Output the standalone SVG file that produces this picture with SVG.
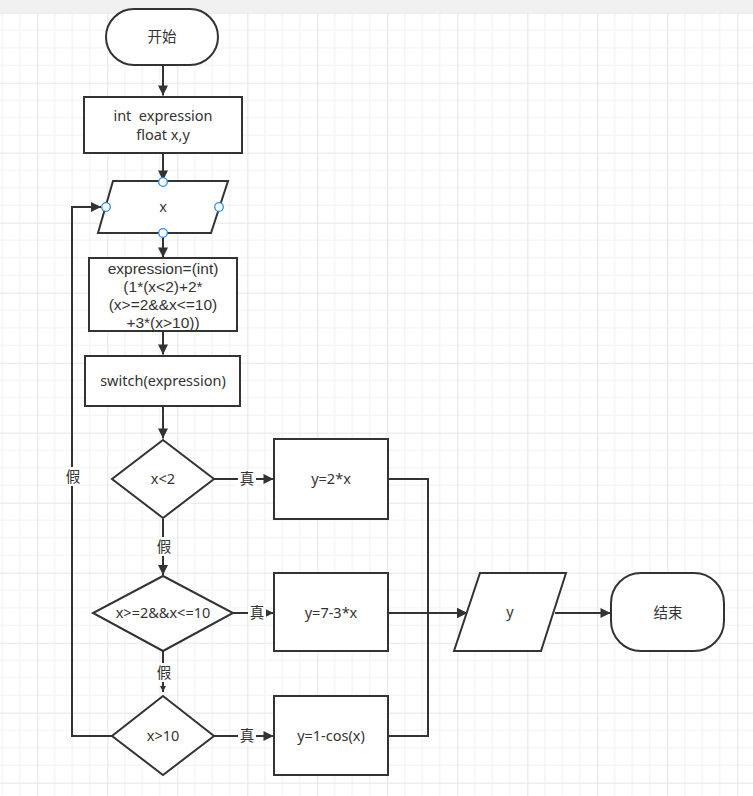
<svg xmlns="http://www.w3.org/2000/svg" width="753" height="796" viewBox="0 0 753 796">
<defs>
<pattern id="grid" x="-32.7" y="12.7" width="70" height="70" patternUnits="userSpaceOnUse">
<path d="M0,17.5H70M0,35H70M0,52.5H70M17.5,0V70M35,0V70M52.5,0V70" stroke="#f2f2f2" stroke-width="1.2" fill="none"/>
<path d="M0,0.5H70M0.5,0V70" stroke="#e6e6e6" stroke-width="1.2" fill="none"/>
</pattern>
<marker id="arr" viewBox="0 0 10 10" refX="10" refY="5" markerWidth="11" markerHeight="10" markerUnits="userSpaceOnUse" orient="auto">
<path d="M0,0L10,5L0,10z" fill="#333"/>
</marker>
<marker id="arrs" viewBox="0 0 10 10" refX="10" refY="5" markerWidth="7" markerHeight="6" markerUnits="userSpaceOnUse" orient="auto">
<path d="M0,0L10,5L0,10z" fill="#333"/>
</marker>
<style>
.s{fill:#fff;stroke:#333;stroke-width:2}
.t{font-family:"Noto Sans","Noto Sans CJK SC",sans-serif;font-size:14.5px;fill:#333;text-anchor:middle}
.e{font-family:"Liberation Sans","Noto Sans CJK SC",sans-serif;font-size:15.5px;fill:#333;text-anchor:middle}
.c{fill:none;stroke:#333;stroke-width:2}
.lb{fill:#fff}
.pt{fill:#fff;stroke:#2a8cf0;stroke-width:1.3}
</style>
</defs>
<rect x="0" y="0" width="753" height="796" fill="#fff"/>
<rect x="0" y="13" width="753" height="783" fill="url(#grid)"/>
<rect x="0" y="0" width="753" height="13" fill="#f0f0f0"/>

<g id="connectors">
<path class="c" d="M163,65V95.5" marker-end="url(#arr)"/>
<path class="c" d="M163,153V180.5" marker-end="url(#arr)"/>
<path class="c" d="M163,233V257.5" marker-end="url(#arr)"/>
<path class="c" d="M163,331V354.5" marker-end="url(#arr)"/>
<path class="c" d="M163,406V438.5" marker-end="url(#arr)"/>
<path class="c" d="M163,519V575" marker-end="url(#arr)"/>
<path class="c" d="M163,651V692" marker-end="url(#arrs)"/>
<path class="c" d="M112,736H72V207H101" marker-end="url(#arr)"/>
<path class="c" d="M214,479H273.5" marker-end="url(#arr)"/>
<path class="c" d="M233,613H273.5" marker-end="url(#arr)"/>
<path class="c" d="M214,736H273.5" marker-end="url(#arr)"/>
<path class="c" d="M388,479H428V613H467" marker-end="url(#arr)"/>
<path class="c" d="M388,613H467" marker-end="url(#arr)"/>
<path class="c" d="M388,736H428V613H467" marker-end="url(#arr)"/>
<path class="c" d="M555,613H610.5" marker-end="url(#arr)"/>
<rect class="lb" x="65" y="467" width="15" height="19"/>
<text class="t" x="73" y="481.5">假</text>
<rect class="lb" x="238" y="470" width="18" height="18"/>
<text class="t" x="247" y="484">真</text>
<rect class="lb" x="248" y="604" width="18" height="18"/>
<text class="t" x="257" y="618">真</text>
<rect class="lb" x="238" y="727" width="18" height="18"/>
<text class="t" x="247" y="741">真</text>
<rect class="lb" x="155" y="537" width="17" height="19"/>
<text class="t" x="164" y="551.5">假</text>
<rect class="lb" x="155" y="663" width="17" height="19"/>
<text class="t" x="164" y="677.5">假</text>
</g>

<g id="start">
<rect class="s" x="106" y="9" width="112" height="56" rx="28" ry="28"/>
<text class="t" x="162" y="42">开始</text>
</g>
<g id="decl">
<rect class="s" x="84" y="97" width="158" height="56"/>
<text class="t" x="163" y="121" xml:space="preserve">int  expression</text>
<text class="t" x="163" y="140">float x,y</text>
</g>
<g id="input-x">
<polygon class="s" points="113,181 228,181 211,233 98,233"/>
<text class="t" x="163" y="212">x</text>
<circle class="pt" cx="163" cy="182" r="4.3"/>
<circle class="pt" cx="106" cy="207" r="4.3"/>
<circle class="pt" cx="219" cy="207" r="4.3"/>
<circle class="pt" cx="163" cy="233" r="4.3"/>
</g>
<g id="expr">
<rect class="s" x="89" y="258" width="148" height="73"/>
<text class="e" x="163" y="273.5">expression=(int)</text>
<text class="e" x="163" y="291.5">(1*(x&lt;2)+2*</text>
<text class="e" x="163" y="309.5">(x&gt;=2&amp;&amp;x&lt;=10)</text>
<text class="e" x="163" y="327.5">+3*(x&gt;10))</text>
</g>
<g id="switch">
<rect class="s" x="85" y="356" width="155" height="50"/>
<text class="t" x="163" y="386">switch(expression)</text>
</g>
<g id="d1">
<polygon class="s" points="163,440 214,479 163,518 112,479"/>
<text class="t" x="163" y="484">x&lt;2</text>
</g>
<g id="d2">
<polygon class="s" points="163,576 233,613 163,651 93,613"/>
<text class="t" x="163" y="618">x&gt;=2&amp;&amp;x&lt;=10</text>
</g>
<g id="d3">
<polygon class="s" points="163,696 214,736 163,775 112,736"/>
<text class="t" x="163" y="741">x&gt;10</text>
</g>
<g id="b1">
<rect class="s" x="274" y="439" width="114" height="80"/>
<text class="t" x="331" y="484">y=2*x</text>
</g>
<g id="b2">
<rect class="s" x="274" y="573" width="114" height="78"/>
<text class="t" x="331" y="618">y=7-3*x</text>
</g>
<g id="b3">
<rect class="s" x="274" y="696" width="114" height="79"/>
<text class="t" x="331" y="741">y=1-cos(x)</text>
</g>
<g id="output-y">
<polygon class="s" points="480,573 566,573 541,651 454,651"/>
<text class="t" x="510" y="617">y</text>
</g>
<g id="end">
<rect class="s" x="611" y="573" width="113" height="78" rx="30" ry="30"/>
<text class="t" x="668" y="618">结束</text>
</g>
</svg>
